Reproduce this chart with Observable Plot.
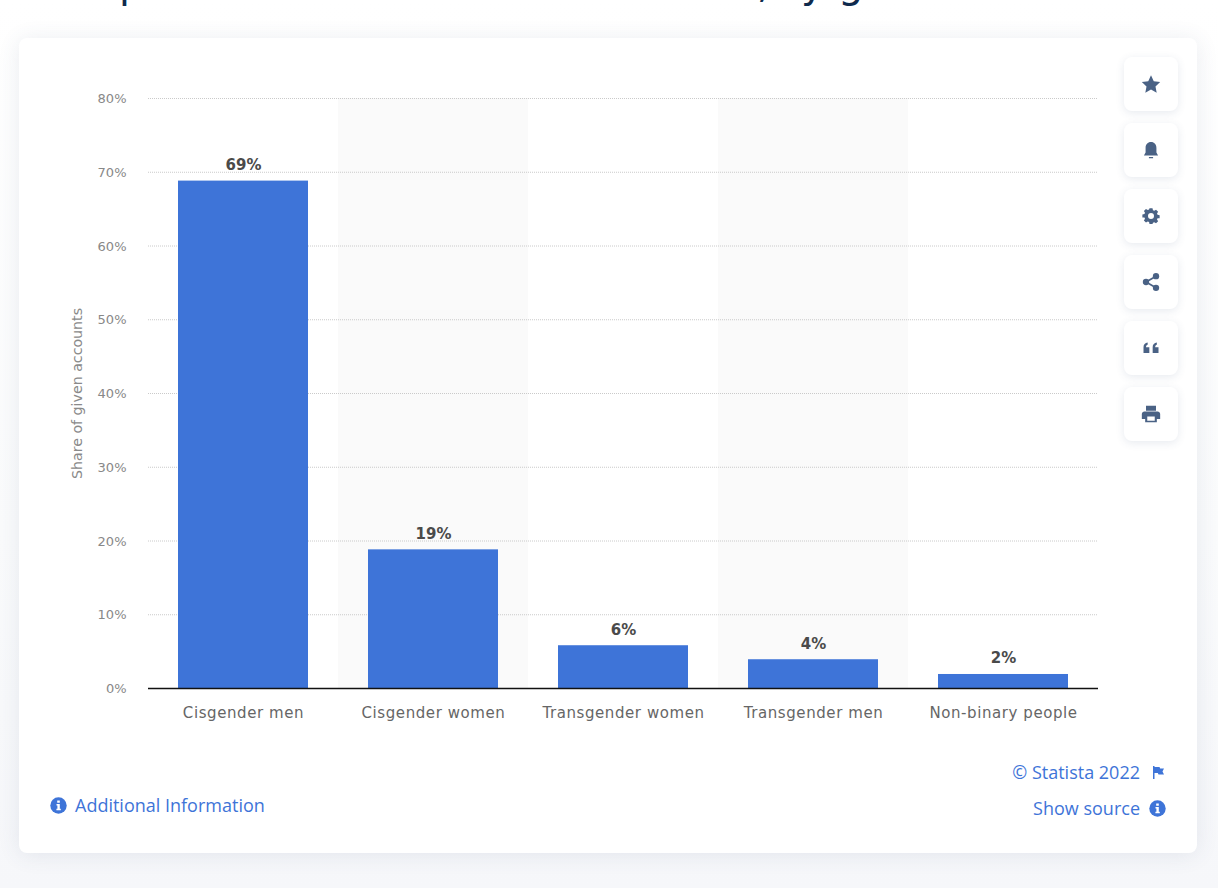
<!DOCTYPE html>
<html>
<head>
<meta charset="utf-8">
<script src="https://cdn.jsdelivr.net/npm/d3@7"></script>
<script src="https://cdn.jsdelivr.net/npm/@observablehq/plot@0.6"></script>
<style>
html,body{margin:0;padding:0;width:1218px;height:888px;overflow:hidden;
  background:linear-gradient(#fff 0,#fafbfc 60%,#f6f7fa 100%);font-family:"DejaVu Sans",sans-serif}
#card{position:absolute;left:19px;top:38px;width:1178px;height:815px;background:#fff;border-radius:8px;
  box-shadow:0 2px 22px rgba(60,80,120,.11)}
#plot{position:absolute;left:0;top:0}
#plot svg{background:transparent;display:block}
g[aria-label="x-axis tick label"] text{letter-spacing:.58px}
.frag{position:absolute;font:40px/40px "DejaVu Sans",sans-serif;color:#0f2a4d;white-space:pre}
.btn{position:absolute;left:1124px;width:54px;height:54px;background:#fff;border-radius:8px;
  box-shadow:0 2px 8px rgba(60,80,120,.12);display:flex;align-items:center;justify-content:center}
.btn svg{width:20px;height:20px;fill:#4a6285;display:block}
.link{position:absolute;color:#3e74d8;font:18px/22px "Open Sans",sans-serif;white-space:nowrap}
.ico{position:absolute;display:block}
</style>
</head>
<body>
<div class="frag" style="left:119px;top:-37px">p</div>
<div class="frag" style="left:757px;top:-37px">,</div>
<div class="frag" style="left:801px;top:-37px">y</div>
<div class="frag" style="left:838px;top:-37px">g</div>
<div id="card"></div>
<div id="plot"></div>

<div class="btn" style="top:57px"><svg style="width:22px;height:22px" viewBox="0 0 24 24"><path d="M12 2.500l3 6.400 7 .9-5.100 4.800 1.300 6.900-6.200-3.400-6.200 3.400 1.300-6.900L2 9.800l7-.9z"/></svg></div>
<div class="btn" style="top:123px"><svg viewBox="0 0 24 24"><path d="M12 2.500c4 0 6.500 3 6.500 7v5.500l2 3.500H3.500l2-3.500V9.500c0-4 2.500-7 6.500-7zM9.500 20.500h5v1.500h-5z"/></svg></div>
<div class="btn" style="top:189px"><svg style="width:18px;height:18px" viewBox="0 0 24 24"><path fill-rule="evenodd" d="M10 2h4l.6 2.800 1.700.7 2.400-1.500 2.800 2.800-1.500 2.400.7 1.700L23.500 11.500v4l-2.800.0-.7 1.500 1.500 2.400-2.800 2.800-2.400-1.500-1.700.7L14 23h-4l-.6-2.600-1.700-.7-2.400 1.500-2.800-2.800 1.500-2.400-.7-1.500-2.800-.0v-4l2.800-.6.700-1.700-1.500-2.400 2.800-2.800 2.400 1.500 1.700-.7zM12 8.500a4 4 0 1 0 0 8 4 4 0 0 0 0-8z" transform="translate(0 -.5)"/></svg></div>
<div class="btn" style="top:255px"><svg viewBox="0 0 24 24"><circle cx="18" cy="5" r="3.800"/><circle cx="6" cy="12" r="3.800"/><circle cx="18" cy="19" r="3.800"/><path d="M6 12L18 5M6 12l12 7" stroke="#4a6285" stroke-width="2" fill="none"/></svg></div>
<div class="btn" style="top:321px"><svg viewBox="0 0 24 24"><path d="M3 18v-7c0-3 2-5 5-5.500v2.500c-1.500.4-2 1.500-2 3h4v7zM14 18v-7c0-3 2-5 5-5.500v2.500c-1.500.4-2 1.500-2 3h4v7z"/></svg></div>
<div class="btn" style="top:387px"><svg viewBox="0 0 24 24"><path fill-rule="evenodd" d="M6 2h12v6H6zM4 9h16c1.500 0 3 1.200 3 3v6h-4v4H5v-4H1v-6c0-1.800 1.500-3 3-3zM7.500 15v5h9v-5z"/></svg></div>

<svg class="ico" style="left:50px;top:797px" width="17" height="17" viewBox="0 0 17 17"><circle cx="8.500" cy="8.500" r="8.200" fill="#3e74d8"/><path d="M7.200 3.500h2.600v2.300H7.200zM6.500 7h3.300v4.700h1v1.500H6.400v-1.500h1V8.500h-.9z" fill="#fff"/></svg>
<div class="link" style="left:75px;top:794px">Additional Information</div>
<div class="link" style="right:78px;top:761px">© Statista 2022</div>
<svg class="ico" style="left:1152px;top:766px" width="12" height="13" viewBox="0 0 12 13"><path d="M1 0h1.500v13H1zM2.500 1h5l.7 1.500H12L10.500 5.500 12 8.500H6.500L5.800 7H2.500z" fill="#3e74d8"/></svg>
<div class="link" style="right:78px;top:797px">Show source</div>
<svg class="ico" style="left:1149px;top:800px" width="17" height="17" viewBox="0 0 17 17"><circle cx="8.500" cy="8.500" r="8.200" fill="#3e74d8"/><path d="M7.200 3.500h2.600v2.300H7.200zM6.500 7h3.300v4.700h1v1.500H6.400v-1.500h1V8.500h-.9z" fill="#fff"/></svg>

<script>
const categories = ["Cisgender men", "Cisgender women", "Transgender women", "Transgender men", "Non-binary people"];
const shares = [68.8, 18.8, 5.8, 3.9, 1.9];
const shareLabels = ["69%", "19%", "6%", "4%", "2%"];
const shadedCategories = ["Cisgender women", "Transgender men"];
const yTicks = [0, 10, 20, 30, 40, 50, 60, 70, 80];
const yMax = 80;
const data = categories.map((c, i) => ({category: c, share: shares[i], label: shareLabels[i]}));
const pct = d => d + "%";

const chart = Plot.plot({
  width: 1218, height: 888,
  marginLeft: 148, marginRight: 120, marginTop: 98, marginBottom: 200,
  style: {background: "transparent", overflow: "visible"},
  x: {domain: categories, padding: 0, label: null},
  y: {domain: [0, yMax], label: null},
  marks: [
    Plot.barY(shadedCategories, {x: d => d, y1: 0, y2: yMax, fill: "#fafafa"}),
    Plot.ruleY(yTicks, {stroke: "#cacaca", strokeWidth: 1, strokeDasharray: "1,1"}),
    Plot.barY(data, {x: "category", y: "share", fill: "#3e74d8", insetLeft: 30, insetRight: 30}),
    Plot.ruleY([0], {stroke: "#111", strokeWidth: 1.5}),
    Plot.text(data, {x: "category", y: "share", text: "label", dy: -16,
      fill: "#4a4a4a", fontSize: 15, fontWeight: 600, fontFamily: "'DejaVu Sans'"}),
    Plot.axisY({ticks: yTicks, tickSize: 0, tickPadding: 22, tickFormat: pct, dy: 0.5,
      fontSize: 13, color: "#888", fontFamily: "'DejaVu Sans'", label: null}),
    Plot.axisX({tickSize: 0, tickPadding: 19, fontSize: 15, color: "#666", label: null,
      fontFamily: "'DejaVu Sans'"}),
    Plot.text(["Share of given accounts"], {frameAnchor: "left", textAnchor: "middle", rotate: -90, dx: -71,
      fill: "#8a8a8a", fontSize: 14.200, fontFamily: "'DejaVu Sans'"})
  ]
});
document.getElementById("plot").appendChild(chart);
</script>
</body>
</html>
